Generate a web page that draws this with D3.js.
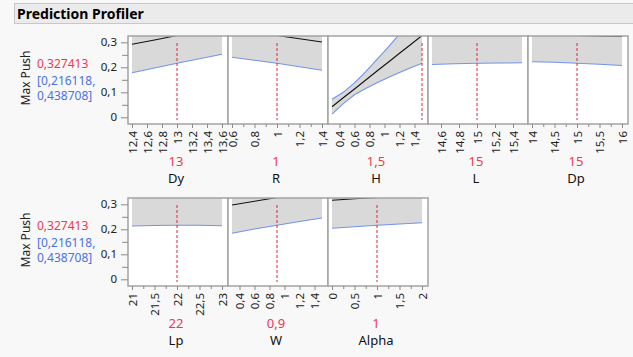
<!DOCTYPE html>
<html><head><meta charset="utf-8">
<script src="https://cdn.jsdelivr.net/npm/d3@7"></script>
<style>
body{margin:0;background:#f8f8f8;}
text{font-family:"Noto Sans",sans-serif;}
</style>
</head><body>
<svg id="chart" width="633" height="357"></svg>
<script>
// ---------- data ----------
const factorNames   = ["Dy","R","H","L","Dp","Lp","W","Alpha"];
const currentValues = [13, 1, 1.5, 15, 15, 22, 0.9, 1];
const factorDomains = [[12.4,13.6],[0.6,1.4],[0.3,1.5],[14.5,15.5],[14,16],[21,23],[0.3,1.5],[0,2]];
const majorTicks = [
  [12.4,12.6,12.8,13,13.2,13.4,13.6],
  [0.6,0.8,1,1.2,1.4],
  [0.4,0.6,0.8,1,1.2,1.4],
  [14.6,14.8,15,15.2,15.4],
  [14,14.5,15,15.5,16],
  [21,21.5,22,22.5,23],
  [0.4,0.6,0.8,1,1.2,1.4],
  [0,0.5,1,1.5,2]
];
const minorTicks = [
  [],
  [0.7,0.9,1.1,1.3],
  [],
  [],
  [14.25,14.75,15.25,15.75],
  [21.25,21.75,22.25,22.75],
  [],
  [0.25,0.75,1.25,1.75]
];
const yMajorTicks = [0,0.1,0.2,0.3];
const yMinorTicks = [0.05,0.15,0.25];
const responseName = "Max Push";
const predictionText = "0,327413";
const ciLowText = "[0,216118,";
const ciHighText = "0,438708]";

// profile traces: x, prediction, lower CI, upper CI
const xDy    = [12.4,12.7,13,13.3,13.6];
const predDy = [0.292,0.309,0.327,0.344,0.362];
const lowDy  = [0.178,0.197,0.216,0.234,0.252];
const upDy   = [0.406,0.421,0.438,0.454,0.472];

const xR    = [0.6,0.8,1,1.2,1.4];
const predR = [0.356,0.341,0.327,0.314,0.301];
const lowR  = [0.240,0.228,0.216,0.202,0.188];
const upR   = [0.472,0.454,0.438,0.426,0.414];

const xH    = [0.3,0.45,0.6,0.75,0.9,1.05,1.2,1.35,1.5];
const predH = [0.042,0.078,0.113,0.149,0.185,0.220,0.256,0.291,0.327];
const lowH  = [0.013,0.055,0.090,0.115,0.138,0.159,0.179,0.198,0.216];
const upH   = [0.072,0.100,0.138,0.183,0.232,0.281,0.333,0.385,0.438];

const xL    = [14.5,14.75,15,15.25,15.5];
const predL = [0.327,0.327,0.327,0.327,0.327];
const lowL  = [0.211,0.214,0.216,0.217,0.218];
const upL   = [0.443,0.440,0.438,0.437,0.436];

const xDp    = [14,14.5,15,15.5,16];
const predDp = [0.330,0.329,0.327,0.3255,0.323];
const lowDp  = [0.222,0.220,0.216,0.212,0.207];
const upDp   = [0.438,0.438,0.438,0.439,0.439];

const xLp    = [21,21.5,22,22.5,23];
const predLp = [0.327,0.327,0.327,0.327,0.327];
const lowLp  = [0.213,0.215,0.216,0.216,0.214];
const upLp   = [0.441,0.439,0.438,0.438,0.440];

const xW    = [0.3,0.6,0.9,1.2,1.5];
const predW = [0.297,0.312,0.327,0.342,0.357];
const lowW  = [0.184,0.201,0.216,0.231,0.245];
const upW   = [0.410,0.423,0.438,0.453,0.469];

const xAlpha    = [0,0.5,1,1.5,2];
const predAlpha = [0.316,0.322,0.327,0.332,0.336];
const lowAlpha  = [0.204,0.210,0.216,0.221,0.226];
const upAlpha   = [0.428,0.434,0.438,0.443,0.446];

const traces = [
  [xDy,predDy,lowDy,upDy],
  [xR,predR,lowR,upR],
  [xH,predH,lowH,upH],
  [xL,predL,lowL,upL],
  [xDp,predDp,lowDp,upDp],
  [xLp,predLp,lowLp,upLp],
  [xW,predW,lowW,upW],
  [xAlpha,predAlpha,lowAlpha,upAlpha]
];

// ---------- layout ----------
const svg = d3.select("#chart");
const locale = d3.formatLocale({decimal:",", thousands:".", grouping:[3], currency:["","€"]});
const fmt = locale.format("~g");
const panelW = 100, panelH = 88, firstLeft = 128;
const rowTops = [36, 198];
const perRow = 5;
const redCol = "#ec3a4f", blueCol = "#4d6fe8", borderCol = "#a3a3a3";

// title bar
svg.append("rect").attr("x",14.5).attr("y",3.5).attr("width",640).attr("height",20)
  .attr("fill","#ebebeb").attr("stroke","#c8c8c8");
svg.append("text").attr("x",17).attr("y",19).attr("font-size",14).attr("font-weight","bold")
  .attr("fill","#000").text("Prediction Profiler");

const defs = svg.append("defs");

factorNames.forEach((name, i) => {
  const row = Math.floor(i / perRow), col = i % perRow;
  const top = rowTops[row];
  const left = firstLeft + col * panelW;
  const bottom = top + panelH;
  const x = d3.scaleLinear().domain(factorDomains[i]).range([left + 4, left + 94]);
  const y = d3.scaleLinear().domain([0, 0.3]).range([top + 81.3, top + 6.3]);

  const g = svg.append("g");
  g.append("rect").attr("x",left).attr("y",top).attr("width",panelW).attr("height",panelH)
    .attr("fill","#fff");

  defs.append("clipPath").attr("id","clip"+i).append("rect")
    .attr("x",left).attr("y",top).attr("width",panelW).attr("height",panelH);
  const pg = g.append("g").attr("clip-path","url(#clip"+i+")");

  const [xs, pr, lo, up] = traces[i];
  const pts = xs.map((v, k) => ({x:v, p:pr[k], l:lo[k], u:up[k]}));
  pg.append("path").datum(pts)
    .attr("d", d3.area().x(d => x(d.x)).y0(d => y(d.l)).y1(d => y(d.u)))
    .attr("fill","#d9d9d9");
  pg.append("path").datum(pts)
    .attr("d", d3.line().x(d => x(d.x)).y(d => y(d.l)))
    .attr("fill","none").attr("stroke","#7393ee").attr("stroke-width",1.1);
  pg.append("path").datum(pts)
    .attr("d", d3.line().x(d => x(d.x)).y(d => y(d.u)))
    .attr("fill","none").attr("stroke","#7393ee").attr("stroke-width",1.1);
  pg.append("path").datum(pts)
    .attr("d", d3.line().x(d => x(d.x)).y(d => y(d.p)))
    .attr("fill","none").attr("stroke","#111").attr("stroke-width",1.1);

  // current value dashed line
  g.append("line").attr("x1",x(currentValues[i])).attr("x2",x(currentValues[i]))
    .attr("y1",top + 7).attr("y2",bottom - 4)
    .attr("stroke","#d9283a").attr("stroke-width",1).attr("stroke-dasharray","3,2");

  g.append("rect").attr("x",left).attr("y",top).attr("width",panelW).attr("height",panelH)
    .attr("fill","none").attr("stroke",borderCol).attr("stroke-width",1.5);

  // x axis
  const ax = g.append("g").attr("transform",`translate(0,${bottom})`)
    .call(d3.axisBottom(x).tickValues(majorTicks[i]).tickSize(4).tickFormat(fmt));
  ax.select(".domain").remove();
  ax.selectAll(".tick line").attr("stroke","#8a8a8a");
  ax.selectAll(".tick text")
    .attr("font-family","'Noto Sans',sans-serif").attr("font-size",11.5).attr("fill","#222")
    .attr("text-anchor","end").attr("x",0).attr("y",0).attr("dy","0.35em")
    .attr("transform","translate(0,7) rotate(-90)");
  if (minorTicks[i].length) {
    const mx = g.append("g").attr("transform",`translate(0,${bottom})`)
      .call(d3.axisBottom(x).tickValues(minorTicks[i]).tickSize(3).tickFormat(""));
    mx.select(".domain").remove();
    mx.selectAll(".tick line").attr("stroke","#8a8a8a");
  }

  const cx = left + 48;
  g.append("text").attr("x",cx).attr("y",bottom + 42).attr("text-anchor","middle")
    .attr("font-size",13).attr("fill",redCol).text(fmt(currentValues[i]));
  g.append("text").attr("x",cx).attr("y",bottom + 59).attr("text-anchor","middle")
    .attr("font-size",13).attr("fill","#111").text(name);

  // y axis for first panel in row
  if (col === 0) {
    const ay = g.append("g").attr("transform",`translate(${left},0)`)
      .call(d3.axisLeft(y).tickValues(yMajorTicks).tickSize(7).tickPadding(4).tickFormat(fmt));
    ay.select(".domain").remove();
    ay.selectAll(".tick line").attr("stroke","#8a8a8a");
    ay.selectAll(".tick text").attr("font-family","'Noto Sans',sans-serif")
      .attr("font-size",11.5).attr("fill","#222");
    const my = g.append("g").attr("transform",`translate(${left},0)`)
      .call(d3.axisLeft(y).tickValues(yMinorTicks).tickSize(6).tickFormat(""));
    my.select(".domain").remove();
    my.selectAll(".tick line").attr("stroke","#8a8a8a");

    g.append("text").attr("transform",`translate(30,${top + 42}) rotate(-90)`)
      .attr("text-anchor","middle").attr("font-size",12).attr("fill","#222").text(responseName);
    g.append("text").attr("x",37).attr("y",top + 32).attr("font-size",12)
      .attr("fill",redCol).text(predictionText);
    g.append("text").attr("x",37).attr("y",top + 48.5).attr("font-size",12)
      .attr("fill",blueCol).text(ciLowText);
    g.append("text").attr("x",37).attr("y",top + 64).attr("font-size",12)
      .attr("fill",blueCol).text(ciHighText);
  }
});
</script>
</body></html>
